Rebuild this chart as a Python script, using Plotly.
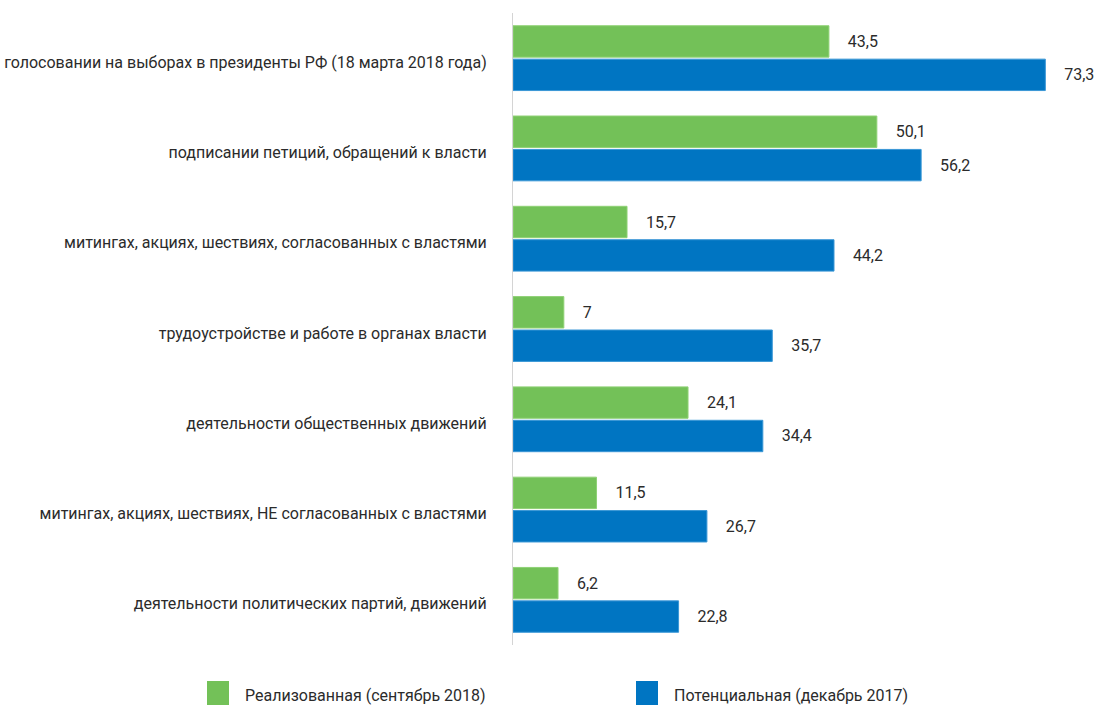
import plotly.graph_objects as go

# Forms of participation (top to bottom)
categories = [
    "голосовании на выборах в президенты РФ (18 марта 2018 года)",
    "подписании петиций, обращений к власти",
    "митингах, акциях, шествиях, согласованных с властями",
    "трудоустройстве и работе в органах власти",
    "деятельности общественных движений",
    "митингах, акциях, шествиях, НЕ согласованных с властями",
    "деятельности политических партий, движений",
]
realized = [43.5, 50.1, 15.7, 7, 24.1, 11.5, 6.2]
potential = [73.3, 56.2, 44.2, 35.7, 34.4, 26.7, 22.8]

name_realized = "Реализованная (сентябрь 2018)"
name_potential = "Потенциальная (декабрь 2017)"

GREEN = "#73C158"
BLUE = "#0075C2"
FONT = "Liberation Sans Narrow, Roboto, Arial Narrow, sans-serif"
TEXT_COLOR = "#2b2b2b"
FS = 16
PAD = "\u00a0" * 4


def fmt(v):
    return PAD + f"{v:g}".replace(".", ",")


fig = go.Figure()
fig.add_trace(go.Bar(
    y=categories, x=realized, orientation="h", name=name_realized,
    marker=dict(color=GREEN, line=dict(color="#8fd175", width=1)),
    text=[fmt(v) for v in realized], textposition="outside",
    textfont=dict(family=FONT, size=FS, color=TEXT_COLOR),
    cliponaxis=False,
))
fig.add_trace(go.Bar(
    y=categories, x=potential, orientation="h", name=name_potential,
    marker=dict(color=BLUE, line=dict(color="#3a97d6", width=1)),
    text=[fmt(v) for v in potential], textposition="outside",
    textfont=dict(family=FONT, size=FS, color=TEXT_COLOR),
    cliponaxis=False,
))

# Plot area in pixels, used to place the hand-drawn legend below it
L, R, T, B = 513, 1, 13, 60
W, H = 1095, 705
pw, ph = W - L - R, H - T - B


def px_x(px):
    return (px - L) / pw


def px_y(py):
    return (H - B - py) / ph


legend_items = [(name_realized, GREEN, 207), (name_potential, BLUE, 636)]
shapes, annots = [], []
for name, color, x0 in legend_items:
    shapes.append(dict(type="rect", xref="paper", yref="paper",
                       x0=px_x(x0), x1=px_x(x0 + 22), y0=px_y(706), y1=px_y(681),
                       fillcolor=color, line=dict(width=0)))
    annots.append(dict(xref="paper", yref="paper", x=px_x(x0 + 36), y=px_y(695),
                       xanchor="left", yanchor="middle", showarrow=False, text=name,
                       font=dict(family=FONT, size=FS, color=TEXT_COLOR)))

fig.update_layout(
    width=W, height=H,
    margin=dict(l=L, r=R, t=T, b=B),
    paper_bgcolor="white", plot_bgcolor="white",
    barmode="group", bargap=0.26, bargroupgap=0.06,
    showlegend=False,
    shapes=shapes, annotations=annots,
    font=dict(family=FONT, size=FS, color=TEXT_COLOR),
    xaxis=dict(range=[0, 80], showgrid=False, zeroline=False,
               showticklabels=False, showline=False),
    yaxis=dict(autorange="reversed", showgrid=False, zeroline=False,
               showline=True, linecolor="#d4d4d4", linewidth=1,
               ticks="", ticklabelstandoff=22, ticklabelshift=-4,
               tickfont=dict(family=FONT, size=FS, color=TEXT_COLOR)),
)

fig.write_html("out.html")
